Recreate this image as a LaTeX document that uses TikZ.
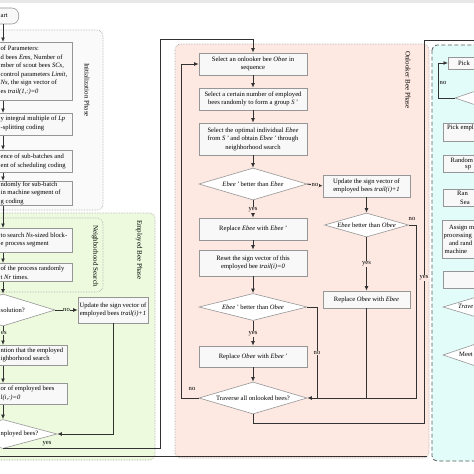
\documentclass[tikz,border=0pt]{standalone}
\usepackage{fontspec}
\setmainfont{Liberation Serif}
\usetikzlibrary{arrows.meta,shapes.geometric}
\definecolor{pinkbg}{RGB}{253,232,226}
\definecolor{greenbg}{RGB}{237,250,222}
\definecolor{cyanbg}{RGB}{226,252,250}
\definecolor{initbg}{RGB}{250,250,250}
\definecolor{boxfill}{RGB}{248,248,248}
\definecolor{boxdraw}{RGB}{150,150,150}
\definecolor{linec}{RGB}{50,50,50}
\definecolor{regborder}{RGB}{165,165,165}
\newcommand{\fs}{\fontsize{6.6}{8.5}\selectfont}
\begin{document}
\begin{tikzpicture}[x=1pt,y=-1pt,
 box/.style={draw=boxdraw, fill=boxfill, line width=0.6pt, inner sep=0pt, rectangle},
 dia/.style={draw=boxdraw, fill=white, line width=0.6pt, diamond, inner sep=0pt},
 txt/.style={font=\fs, align=center},
 frag/.style={font=\fs, align=left, anchor=west, inner sep=0pt},
 lab/.style={font=\fs, inner sep=0.6pt},
 conn/.style={draw=linec, line width=1pt},
 arr/.style={conn, -{Latex[length=4.5pt,width=4pt]}},
 region/.style={draw=regborder, densely dotted, line width=0.6pt, rounded corners=6pt},
 phase/.style={font=\fontsize{7}{8}\selectfont, rotate=-90, inner sep=0pt},
]
\useasboundingbox (0,0) rectangle (474,474);
\clip (0,0) rectangle (474,474);
\fill[white] (0,0) rectangle (474,474);
\fill[gray!18] (0,0) rectangle (474,2.5);

% regions
\draw[region, fill=initbg] (-10,30) rectangle (103,210);
\node[phase] (lini) at (87,90) {Initialization Phase};
\draw[region, fill=greenbg] (-10,213) rectangle (155,460);
\node[phase] (lemp) at (139,250) {Employed Bee Phase};
\draw[region, fill=greenbg] (-10,218) rectangle (103,292);
\node[phase] (lnei) at (95,256) {Neighborhood Search};
\draw[region, fill=pinkbg] (175,44) rectangle (429,458);
\node[phase] (lonl) at (408,80) {Onlooker Bee Phase};
\draw[draw=gray!70!black, dash pattern=on 4pt off 2.5pt, line width=0.8pt, fill=cyanbg, rounded corners=5pt] (432,45) rectangle (500,461);

% bottom long line
\coordinate (bl) at (0,456);
\coordinate (br) at (427,456);
\draw[conn] (bl) -- (br);

% left column
\coordinate (ax) at (3,0);
\node[box, rounded corners=7pt, minimum width=40, minimum height=16, anchor=east] (start) at (19,16) {};
\node[frag] (tstart) at (0.5,16) {art};
\node[box, minimum width=120, minimum height=58, anchor=north east] (b1) at (73,42) {};
\node[frag] (t1) at (0.5,70.5) {of Parameters:\\d bees \textit{Ems}, Number of\\mber of scout bees \textit{SCs},\\control parameters \textit{Limit},\\\textit{Ns}, the sign vector of\\es \textit{trail(1,:)=0}};
\node[box, minimum width=120, minimum height=22, anchor=north east] (b2) at (73,113) {};
\node[frag] (t2) at (0.5,123.5) {y integral multiple of \textit{Lp}\\-splitting coding};
\node[box, minimum width=120, minimum height=22, anchor=north east] (b3) at (73,150) {};
\node[frag] (t3) at (0.5,161.5) {ence of sub-batches and\\ent of scheduling coding};
\node[box, minimum width=120, minimum height=24, anchor=north east] (b4) at (73,181) {};
\node[frag] (t4) at (0.5,193) {ndomly for sub-batch\\in machine segment of\\g coding};
\node[box, minimum width=120, minimum height=24, anchor=north east] (b5) at (73,228) {};
\node[frag] (t5) at (0.5,240) {to search \textit{Ns}-sized block-\\e process segment};
\node[box, minimum width=120, minimum height=18, anchor=north east] (b6) at (73,263) {};
\node[frag] (t6) at (0.5,272.5) {of the process randomly\\t \textit{Nr} times.};
\node[dia, minimum width=104, minimum height=32] (ed1) at (3,310) {};
\node[frag] (ted1) at (0.5,310) {solution?};
\node[box, txt, inner sep=0pt, minimum width=70, minimum height=26] (eu) at (113,310) {Update the sign vector of\\employed bees \textit{trail(i)+1}};
\node[box, minimum width=110, minimum height=20, anchor=north east] (b8) at (68,345) {};
\node[frag] (t8) at (0.5,355) {ntion that the employed\\ighborhood search};
\node[box, minimum width=110, minimum height=21, anchor=north east] (b9) at (68,383) {};
\node[frag] (t9) at (0.5,393.5) {or of employed bees\\\textit{l(i,:)=0}};
\node[dia, minimum width=108, minimum height=29] (ed2) at (3,434) {};
\node[frag] (ted2) at (0.5,434) {nployed bees?};

\draw[arr] (start.south -| ax) -- (b1.north -| ax);
\draw[arr] (b1.south -| ax) -- (b2.north -| ax);
\draw[arr] (b2.south -| ax) -- (b3.north -| ax);
\draw[arr] (b3.south -| ax) -- (b4.north -| ax);
\draw[arr] (b4.south -| ax) -- (b5.north -| ax);
\draw[arr] (b5.south -| ax) -- (b6.north -| ax);
\draw[arr] (b6.south -| ax) -- (ed1.north);
\draw[arr] (ed1.south) -- (b8.north -| ax);
\node[frag, fill=greenbg, inner sep=0.5pt] (yes1) at (0.5,333) {es};
\draw[arr] (ed1.east) -- (eu.west) node[lab, fill=greenbg, midway] (no1) {no};
\draw[arr] (b8.south -| ax) -- (b9.north -| ax);
\draw[arr] (b9.south -| ax) -- (ed2.north);
\draw[arr] (eu.south) |- (ed2.east);

% onlooker column
\node[box, txt, minimum width=108, minimum height=22] (o1) at (253,64) {Select an onlooker bee \textit{Obee} in\\sequence};
\node[box, txt, minimum width=108, minimum height=22] (o2) at (253,99) {Select a certain number of employed\\bees randomly to form a group \textit{S\,'}};
\node[box, txt, minimum width=108, minimum height=32] (o3) at (253,139) {Select the optimal individual \textit{Ebee}\\from \textit{S\,'} and obtain \textit{Ebee\,'} through\\neighborhood search};
\node[dia, minimum width=108, minimum height=32, label={[font=\fs]center:\textit{Ebee\,'} better than \textit{Ebee}}] (d1) at (253,184) {};
\node[box, txt, minimum width=108, minimum height=22] (o4) at (253,229) {Replace \textit{Ebee} with \textit{Ebee\,'}};
\node[box, txt, minimum width=108, minimum height=26] (o5) at (253,263) {Reset the sign vector of this\\employed bee \textit{trail(i)=0}};
\node[dia, minimum width=108, minimum height=27, label={[font=\fs]center:\textit{Ebee\,'} better than \textit{Obee}}] (d2) at (253,307) {};
\node[box, txt, minimum width=108, minimum height=21] (o6) at (253,356.5) {Replace \textit{Obee} with \textit{Ebee\,'}};
\node[dia, minimum width=108, minimum height=32, label={[font=\fs]center:Traverse all onlooked bees?}] (d3) at (253,398) {};
\node[box, txt, inner sep=0pt, minimum width=87, minimum height=22] (p1) at (366.5,186) {Update the sign vector of\\employed bees \textit{trail(i)+1}};
\node[dia, minimum width=84, minimum height=24, label={[font=\fs]center:\textit{Ebee} better than \textit{Obee}}] (d4) at (366.5,225) {};
\node[box, txt, minimum width=87, minimum height=17] (p2) at (366.5,299.5) {Replace \textit{Obee} with \textit{Ebee}};

\draw[arr] (ed2.south) -| (160,39) -| (o1.north);
\node[lab] (yes2) at (47,444) {yes};
\draw[arr] (o1.south) -- (o2.north);
\draw[arr] (o2.south) -- (o3.north);
\draw[arr] (o3.south) -- (d1.north);
\draw[arr] (d1.south) -- (o4.north);
\node[lab, fill=pinkbg] (yes3) at (253,210) {yes};
\draw[arr] (o4.south) -- (o5.north);
\draw[arr] (o5.south) -- (d2.north);
\draw[arr] (d2.south) -- (o6.north);
\node[lab, fill=pinkbg] (yes4) at (253,334) {yes};
\draw[arr] (o6.south) -- (d3.north);
\draw[arr] (d3.west) -- (181,398) |- (o1.west);
\node[lab] (no2) at (192,389) {no};
\draw[arr] (d1.east) -- (p1.west) node[lab, fill=pinkbg, midway] (no3) {no};
\draw[arr] (p1.south) -- (d4.north);
\draw[arr] (d4.south) -- (p2.north);
\node[lab, fill=pinkbg] (yes5) at (366.5,264) {yes};
\draw[conn] (d2.east) -| (317,398);
\node[lab, fill=pinkbg] (no4) at (317,353) {no};
\draw[arr] (d4.east) -| (416,398) -- (d3.east);
\node[lab] (no5) at (412,219) {no};
\draw[conn] (p2.south) -- (p2.south |- d3.east);
\coordinate (toscout) at (480,40);
\draw[conn] (d3.south) |- (424,423) -- (424,40) -- (toscout);
\node[lab, fill=pinkbg] (yes6) at (424,278) {yes};

% scout region (cut at right edge)
\node[box, minimum width=60, minimum height=12, anchor=west] (c1) at (448,63) {};
\node[frag] (tc1) at (458,63) {Pick};
\node[dia, minimum width=70, minimum height=24] (cd1) at (490,98) {};
\draw[arr] (cd1.west) -- (438,98) |- (c1.west);
\node[lab] (no6) at (443,83) {no};
\node[box, minimum width=60, minimum height=18, anchor=north west] (c2) at (443,123) {};
\node[frag] (tc2) at (447,128) {Pick empl};
\node[box, minimum width=60, minimum height=17, anchor=north west] (c3) at (443,155) {};
\node[frag] (tc3a) at (450.5,160) {Random};
\node[frag] (tc3b) at (465,168) {sp};
\node[box, minimum width=60, minimum height=17, anchor=north west] (c4) at (443,189) {};
\node[frag] (tc4a) at (457,193.5) {Ran};
\node[frag] (tc4b) at (460,202) {Sea};
\node[box, minimum width=60, minimum height=38, anchor=north west] (c5) at (442,220) {};
\node[frag] (tc5a) at (449,228) {Assign m};
\node[frag] (tc5b) at (443.5,236) {processing};
\node[frag] (tc5c) at (449,243.5) {and rand};
\node[frag] (tc5d) at (444.5,251) {machine};
\node[box, minimum width=60, minimum height=17, anchor=north west] (c6) at (443,271) {};
\node[dia, minimum width=100, minimum height=30] (cd2) at (493,307) {};
\node[frag] (tcd2) at (458,306) {\textit{Trave}};
\node[dia, minimum width=100, minimum height=34] (cd3) at (493,355) {};
\node[frag] (tcd3) at (459,354) {Meet};
\end{tikzpicture}
\end{document}
